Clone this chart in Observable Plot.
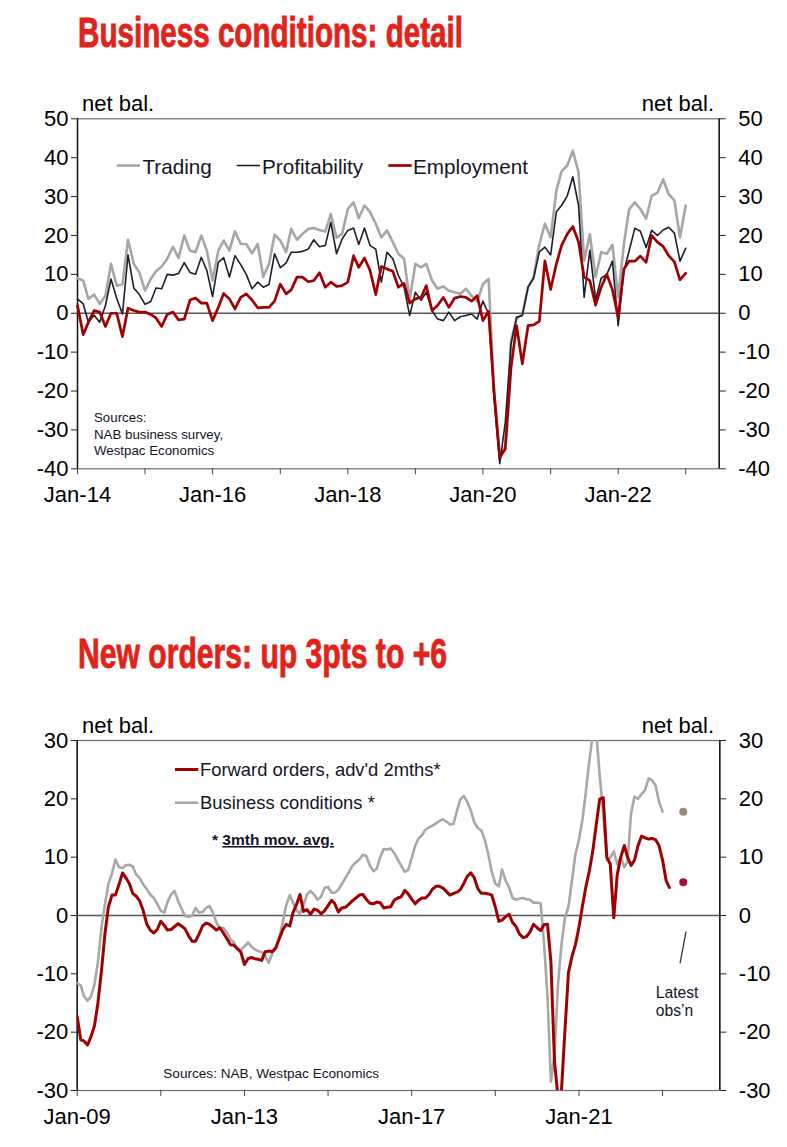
<!DOCTYPE html>
<html><head><meta charset="utf-8">
<script src="https://cdn.jsdelivr.net/npm/d3@7"></script>
<script src="https://cdn.jsdelivr.net/npm/@observablehq/plot@0.6"></script>
<style>
body{margin:0;background:#fff;}
#page{position:relative;width:787px;height:1147px;overflow:hidden;background:#fff;}
#page > div.plot{position:absolute;left:0;}
#overlay{position:absolute;left:0;top:0;pointer-events:none;}
</style></head><body><div id="page"></div>
<script>
// ---------- DATA: top chart (monthly from Jan-2014) ----------
const topStart = [2014, 0];
const trading = [
 9, 8.4, 3.7, 4.8, 2.4, 4.5, 12.7, 7.1, 7.5, 18.9,
 12.7, 10.5, 5.8, 8.8, 10.8, 12.0, 14.0, 17.1, 14.2, 20.0,
 16.1, 15.7, 20.0, 16.1, 8.4, 16.1, 18.7, 16.1, 21.1, 17.8,
 17.8, 15.4, 17.8, 9.3, 12.7, 20.2, 18.7, 15.7, 21.7, 18.9,
 20.4, 21.7, 21.9, 21.4, 21.0, 25.5, 19.4, 20.4, 26.8, 28.5,
 24.5, 27.7, 26.0, 23.0, 19.5, 21.3, 18.3, 15.3, 14.0, 3.5,
 12.7, 11.8, 12.7, 8.4, 6.3, 6.9, 5.8, 5.4, 5.0, 6.3,
 4.5, 3.0, 7.5, 8.8, -20, -37.5, -34, -7, -1.5, -0.3,
 6.7, 9.3, 17.8, 23.0, 19.5, 31.5, 36.5, 38.0, 41.8, 36.2,
 13.5, 20.3, 9.3, 15.7, 15.3, 17.6, 4.1, 17.8, 26.7, 28.5,
 26.8, 24.3, 30.2, 31.0, 34.4, 30.6, 29.0, 19.5, 27.7
];
const profitability = [
 3.7, 2.4, -2.3, -0.5, -2.3, 2.0, 8.8, 3.8, -0.2, 15.0,
 6.5, 4.8, 2.3, 3.0, 6.5, 6.3, 10.0, 9.8, 10.2, 13.0,
 10.5, 10.0, 14.4, 11.0, 4.3, 13.1, 14.3, 9.3, 14.8, 12.5,
 10.0, 6.3, 8.0, 6.7, 7.4, 15.3, 11.7, 12.9, 15.7, 15.7,
 15.9, 16.5, 18.9, 17.1, 17.4, 23.4, 15.3, 19.1, 21.3, 21.9,
 17.7, 21.9, 17.4, 16.5, 8.0, 15.7, 14.0, 9.7, 6.7, -0.6,
 5.4, 3.3, 5.4, 0.7, -1.5, -1.9, 0.3, -1.9, -0.9, -0.6,
 -0.2, -1.5, 3.1, -0.2, -22, -38.7, -28, -7.9, -1.0, -0.6,
 6.7, 9.0, 15.8, 17.0, 15.0, 26.1, 27.7, 30.2, 35.1, 27.7,
 4.1, 16.2, 3.5, 9.0, 10.0, 13.4, -3.2, 10.8, 16.0, 21.9,
 21.1, 16.9, 21.3, 20.0, 21.4, 22.1, 20.6, 13.4, 16.7
];
const employment = [
 2.0, -5.5, -2.3, 0.7, 0.3, -3.4, 0, 0, -6.0, 1.3,
 0.7, 0.3, 0.3, -0.3, -1.2, -3.4, -0.3, 0.3, -1.7, -1.5,
 3.4, 3.9, 2.6, 2.6, -1.9, 1.5, 5.1, 3.7, 1.1, 4.1,
 5.0, 3.4, 1.4, 1.5, 1.5, 3.1, 7.5, 5.0, 6.0, 9.3,
 9.3, 8.1, 8.4, 10.4, 6.7, 8.0, 6.9, 7.1, 8.0, 14.8,
 11.8, 14.2, 11.0, 4.8, 12.0, 11.4, 10.8, 6.7, 7.7, 2.6,
 3.7, 4.1, 7.1, 0.7, 2.0, 4.1, 1.5, 3.9, 4.3, 4.1,
 3.1, 4.5, -1.9, 0.5, -20, -37.0, -34.9, -14, -3.2, -13.0,
 -3.2, -3.0, -2.1, 13.5, 6.1, 12.7, 17.4, 20.4, 22.3, 18.3,
 9.3, 8.4, 2.1, 6.7, 10.0, 6.0, -1.0, 11.4, 13.4, 13.4,
 14.7, 13.1, 20.0, 18.3, 17.2, 14.8, 13.2, 8.6, 10.3
];
const topXDomain = ["2014-01-01", "2023-07-01"];
const topYDomain = [-40, 50];
const topYTicks = [-40, -30, -20, -10, 0, 10, 20, 30, 40, 50];
const topXTickYears = [2014, 2015, 2016, 2017, 2018, 2019, 2020, 2021, 2022, 2023];
const topXLabelYears = [2014, 2016, 2018, 2020, 2022];

// ---------- DATA: bottom chart (monthly from Jan-2009) ----------
const bottomStart = [2009, 0];
const forwardOrders = [
 -17.3, -21.3, -21.5, -22.2, -20.8, -18.9, -15.0, -9.5, -3.0, 1.5,
 3.5, 3.5, 5.3, 7.3, 6.5, 5.5, 3.8, 3.3, 2.5, 0.8,
 -1.5, -2.5, -3.0, -2.4, -1.0, -1.7, -2.5, -2.4, -1.9, -1.4,
 -1.8, -2.3, -3.5, -4.4, -4.4, -3.2, -1.8, -1.3, -1.5, -2.0,
 -2.5, -2.1, -3.0, -4.0, -5.0, -5.1, -5.7, -6.3, -8.4, -7.4,
 -7.2, -7.4, -7.5, -7.7, -6.2, -6.1, -6.2, -5.6, -4.0, -2.5,
 -1.5, -1.8, 0.5, 1.9, 3.6, 0.7, 1.0, 0.2, 1.1, 0.9,
 0.3, 0.8, 1.7, 2.6, 2.0, 0.6, 1.3, 1.4, 1.9, 2.5,
 3.0, 3.5, 3.6, 2.8, 2.1, 2.0, 2.3, 2.2, 1.3, 1.4,
 1.5, 2.6, 3.0, 3.2, 4.3, 3.7, 2.8, 2.0, 2.6, 3.0,
 3.0, 3.6, 4.5, 5.0, 5.0, 4.7, 4.1, 3.5, 3.8, 4.0,
 4.4, 5.5, 6.7, 7.3, 6.5, 4.6, 3.8, 3.8, 3.7, 3.5,
 1.5, -1.0, -0.8, -0.2, 0.2, -1.2, -1.9, -3.2, -3.8, -3.6,
 -2.8, -1.5, -2.1, -2.6, -1.6, -1.5, -8, -25, -31, -30,
 -19.5, -9.8, -7.0, -5.0, -2.0, 1.7, 4.8, 7.6, 11.0, 15.6,
 20.0, 20.2, 10.0, 8.8, -0.4, 7.0, 10.0, 12.0, 10.0, 8.6,
 9.5, 12.0, 13.6, 13.3, 13.1, 13.2, 13.0, 12.0, 9.5, 6.0,
 4.8
];
const businessConditions = [
 -11.6, -12.0, -13.8, -14.6, -13.9, -11.8, -8.0, -2.0, 2.0, 5.5,
 7.2, 9.6, 8.3, 8.1, 8.6, 8.7, 8.4, 7.0, 6.4, 5.3,
 4.5, 3.6, 3.0, 2.0, 0.8, 0.5, 2.3, 3.6, 4.2, 2.5,
 1.2, -0.1, -0.2, -0.1, 1.3, 0.5, 0.6, 1.3, 1.6, 0.5,
 -1.2, -2.3, -2.1, -2.9, -4.1, -4.6, -5.8, -5.9, -5.3, -4.6,
 -5.3, -5.8, -6.1, -6.3, -7.0, -8.1, -6.5, -5.4, -3.8, -1.2,
 1.8, 3.5, 2.2, 0.9, 0.3, 1.8, 3.6, 4.2, 3.6, 2.7,
 3.2, 4.7, 4.9, 3.9, 3.9, 4.4, 5.4, 6.4, 7.4, 8.5,
 9.1, 9.6, 10.4, 10.2, 8.6, 7.6, 8.0, 10.0, 11.4, 11.3,
 11.5, 10.7, 9.6, 8.5, 7.5, 7.8, 9.9, 12.0, 13.2, 13.8,
 14.7, 15.1, 15.4, 15.8, 16.2, 16.5, 16.1, 15.6, 15.7, 18.0,
 19.9, 20.5, 19.5, 18.0, 16.0, 15.0, 14.6, 13.0, 10.5, 7.5,
 5.5, 5.0, 7.9, 6.0, 4.8, 3.0, 2.7, 2.9, 3.0, 2.8,
 2.7, 2.2, 2.2, 2.1, -4.5, -14, -28.5, -24, -12, -5,
 -0.3, 1.5, 6.0, 10.5, 13.0, 16.5, 21, 26.5, 31, 31.5,
 24, 17.5, 9.5, 9.9, 11.0, 8.8, 10.0, 8.3, 9.2, 17.5,
 20.4, 20.0, 20.8, 21.5, 23.5, 23.2, 22.3, 19.5, 17.8
];
const latestDate = ["2023-07-01"];
const latestForward = [5.7];
const latestConditions = [17.8];
const bottomXDomain = ["2009-01-01", "2024-05-15"];
const bottomYDomain = [-30, 30];
const bottomYTicks = [-30, -20, -10, 0, 10, 20, 30];
const bottomXTickYears = [2009, 2011, 2013, 2015, 2017, 2019, 2021, 2023];
const bottomXLabelYears = [2009, 2013, 2017, 2021];

// ---------- helpers ----------
const monthly = (start, values, series) =>
  values.map((v, i) => ({date: new Date(Date.UTC(start[0], start[1] + i, 1)), value: v, series}));
const yearDate = y => new Date(Date.UTC(y, 0, 1));
const fmtMonth = d3.utcFormat("%b-%y");
const FONT = "'Liberation Sans', Arial, sans-serif";
const page = document.getElementById("page");

function axes(yTicks, xTickYears, labelYears) {
  return [
    Plot.axisY(yTicks, {anchor: "left", tickSize: 6, tickPadding: 3, tickFormat: d => String(d), label: null, stroke: "#222", fill: "#000"}),
    Plot.axisY(yTicks, {anchor: "right", tickSize: 6, tickPadding: 13, tickFormat: d => String(d), label: null, stroke: "#222", fill: "#000"}),
    Plot.axisX(xTickYears.map(yearDate), {anchor: "bottom", tickSize: 6, tickPadding: 12,
      tickFormat: d => labelYears.includes(d.getUTCFullYear()) ? fmtMonth(d) : "", label: null, stroke: "#444", fill: "#000"})
  ];
}

// ---------- top chart ----------
const xDomTop = topXDomain.map(s => new Date(s));
const plot1 = Plot.plot({
  width: 787, height: 520,
  marginTop: 118.3, marginBottom: 51.7, marginLeft: 77, marginRight: 68.3,
  style: {fontFamily: FONT, fontSize: "22px", color: "#000", background: "transparent", overflow: "visible"},
  x: {type: "utc", domain: xDomTop},
  y: {domain: topYDomain},
  marks: [
    Plot.frame({stroke: "#6f6f6f", strokeWidth: 1.2}),
    Plot.ruleX(xDomTop, {stroke: "#111", strokeWidth: 1.4}),
    Plot.ruleY([0], {stroke: "#595959", strokeWidth: 1.4}),
    Plot.line(monthly(topStart, trading, "Trading"), {x: "date", y: "value", stroke: "#a6a6a6", strokeWidth: 2.6}),
    Plot.line(monthly(topStart, profitability, "Profitability"), {x: "date", y: "value", stroke: "#1d1e2c", strokeWidth: 1.6}),
    Plot.line(monthly(topStart, employment, "Employment"), {x: "date", y: "value", stroke: "#a00000", strokeWidth: 2.7}),
    ...axes(topYTicks, topXTickYears, topXLabelYears)
  ]
});
const w1 = document.createElement("div"); w1.className = "plot"; w1.style.top = "0px";
w1.appendChild(plot1); page.appendChild(w1);

// ---------- bottom chart ----------
const xDomBot = bottomXDomain.map(s => new Date(s));
const plot2 = Plot.plot({
  width: 787, height: 547,
  marginTop: 140, marginBottom: 57, marginLeft: 76.7, marginRight: 67.7,
  style: {fontFamily: FONT, fontSize: "22px", color: "#000", background: "transparent", overflow: "visible"},
  x: {type: "utc", domain: xDomBot},
  y: {domain: bottomYDomain},
  marks: [
    Plot.frame({stroke: "#6f6f6f", strokeWidth: 1.2}),
    Plot.ruleX(xDomBot, {stroke: "#111", strokeWidth: 1.4}),
    Plot.ruleY([0], {stroke: "#595959", strokeWidth: 1.4}),
    Plot.line(monthly(bottomStart, businessConditions, "Business conditions *"), {x: "date", y: "value", stroke: "#a8a8a8", strokeWidth: 2.6, clip: true}),
    Plot.line(monthly(bottomStart, forwardOrders, "Forward orders, adv'd 2mths*"), {x: "date", y: "value", stroke: "#a00000", strokeWidth: 3, clip: true}),
    Plot.dot(latestDate.map((d, i) => ({date: new Date(d), value: latestConditions[i]})), {x: "date", y: "value", r: 4, fill: "#9b8b7b", stroke: "none"}),
    Plot.dot(latestDate.map((d, i) => ({date: new Date(d), value: latestForward[i]})), {x: "date", y: "value", r: 4, fill: "#a0103a", stroke: "none"}),
    ...axes(bottomYTicks, bottomXTickYears, bottomXLabelYears)
  ]
});
const w2 = document.createElement("div"); w2.className = "plot"; w2.style.top = "600px";
w2.appendChild(plot2); page.appendChild(w2);

// ---------- overlay: titles, labels, legends, notes ----------
const TXT = "#141428";
const ov = `
<svg id="overlay" width="787" height="1147" xmlns="http://www.w3.org/2000/svg" font-family="${FONT}">
  <g font-family="'Liberation Sans Narrow','Liberation Sans',sans-serif" font-weight="bold" fill="#e2231a" stroke="#e2231a" stroke-width="0.9">
    <text x="78" y="47" font-size="42" textLength="385" lengthAdjust="spacingAndGlyphs">Business conditions: detail</text>
    <text x="78" y="668" font-size="42" textLength="369" lengthAdjust="spacingAndGlyphs">New orders: up 3pts to +6</text>
  </g>
  <g font-size="22" fill="#000">
    <text x="82" y="111">net bal.</text>
    <text x="714" y="111" text-anchor="end">net bal.</text>
    <text x="82" y="733">net bal.</text>
    <text x="714" y="733" text-anchor="end">net bal.</text>
  </g>
  <g font-size="20.7" fill="${TXT}">
    <line x1="116.7" x2="140" y1="165.5" y2="165.5" stroke="#a6a6a6" stroke-width="2.6"/>
    <text x="142.5" y="173.5">Trading</text>
    <line x1="236.7" x2="260" y1="165.5" y2="165.5" stroke="#1d1e2c" stroke-width="1.6"/>
    <text x="262" y="173.5">Profitability</text>
    <line x1="388.3" x2="411.7" y1="165.5" y2="165.5" stroke="#a00000" stroke-width="2.7"/>
    <text x="413" y="173.5">Employment</text>
  </g>
  <g font-size="13.3" fill="${TXT}">
    <text x="94" y="422">Sources:</text>
    <text x="94" y="438.5">NAB business survey,</text>
    <text x="94" y="455">Westpac Economics</text>
  </g>
  <g font-size="18.4" fill="${TXT}">
    <line x1="175" x2="198.3" y1="769.5" y2="769.5" stroke="#a00000" stroke-width="3"/>
    <text x="200" y="775.7">Forward orders, adv'd 2mths*</text>
    <line x1="175" x2="198.3" y1="802.7" y2="802.7" stroke="#a8a8a8" stroke-width="2.6"/>
    <text x="200" y="809">Business conditions *</text>
  </g>
  <text x="212" y="845" font-size="15.5" font-weight="bold" fill="${TXT}">* <tspan text-decoration="underline">3mth mov. avg.</tspan></text>
  <text x="163.3" y="1078.3" font-size="13.6" fill="${TXT}">Sources: NAB, Westpac Economics</text>
  <line x1="686" y1="931.7" x2="680" y2="963.3" stroke="#333" stroke-width="1.3"/>
  <g font-size="15.7" fill="${TXT}">
    <text x="655.7" y="998.3">Latest</text>
    <text x="655.7" y="1016">obs’n</text>
  </g>
</svg>`;
page.insertAdjacentHTML("beforeend", ov);
</script>
</body></html>
